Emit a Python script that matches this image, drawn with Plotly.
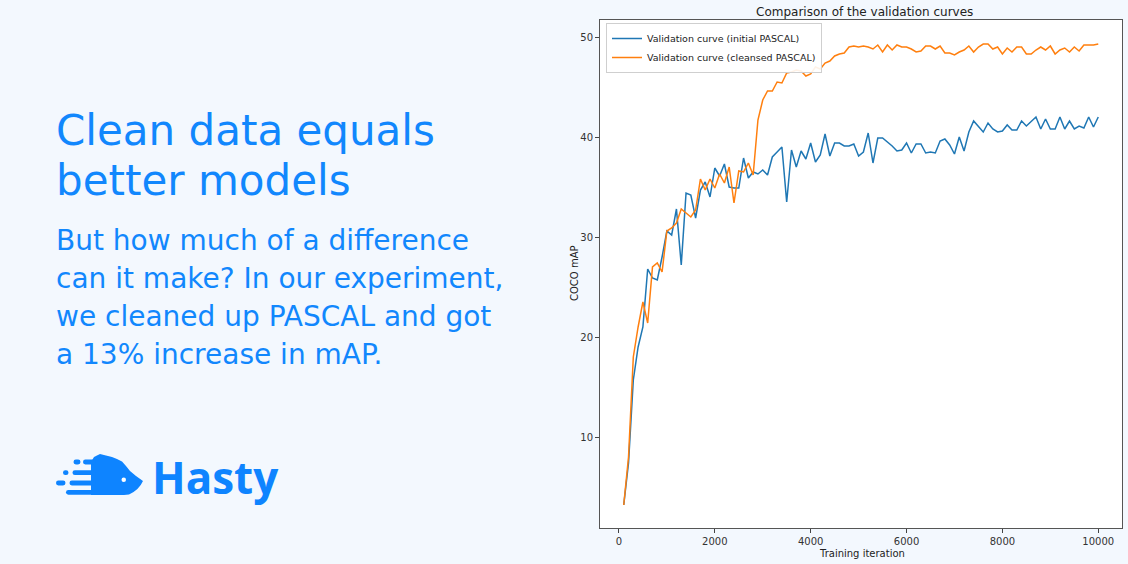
import plotly.graph_objects as go

iterations = list(range(100, 10001, 100))

map_initial = [
    3.2, 7.4, 15.7, 19.0, 21.0, 26.8, 25.9, 25.7, 28.0, 30.6,
    30.2, 32.8, 27.2, 34.4, 34.2, 31.9, 34.7, 35.5, 34.0, 36.9,
    36.1, 37.3, 35.0, 34.9, 34.9, 37.9, 35.9, 36.5, 36.3, 36.7,
    36.2, 38.0, 38.5, 39.0, 33.5, 38.7, 37.0, 38.6, 37.8, 39.4,
    37.5, 38.2, 40.3, 38.1, 39.4, 39.4, 39.1, 39.1, 39.3, 38.1,
    38.5, 40.4, 37.4, 39.9, 39.9, 39.5, 39.1, 38.6, 38.7, 39.4,
    38.4, 39.3, 39.3, 38.4, 38.5, 38.4, 39.6, 39.8, 39.2, 38.3,
    40.0, 38.6, 40.5, 41.6, 41.0, 40.5, 41.4, 40.8, 40.5, 40.6,
    41.2, 40.7, 40.7, 41.6, 41.1, 41.6, 42.0, 40.8, 41.8, 40.8,
    40.8, 42.0, 40.8, 41.6, 40.8, 41.1, 40.9, 42.0, 41.0, 42.0,
]

map_cleansed = [
    3.2, 8.0, 18.0, 21.0, 23.5, 21.4, 27.0, 27.4, 26.5, 30.6,
    30.9, 31.4, 32.8, 32.4, 32.0, 32.7, 35.8, 34.7, 35.8, 34.9,
    36.3, 35.4, 37.0, 33.4, 36.6, 36.5, 37.4, 36.2, 41.7, 43.7,
    44.6, 44.6, 45.5, 45.4, 46.4, 46.5, 46.7, 46.6, 46.1, 46.3,
    47.0, 46.8, 47.4, 47.6, 48.1, 48.3, 48.4, 49.0, 49.1, 49.0,
    49.1, 49.0, 48.8, 49.2, 48.5, 49.2, 48.7, 49.2, 49.0, 49.0,
    48.8, 48.5, 48.6, 49.1, 49.1, 48.8, 49.1, 48.4, 48.4, 48.2,
    48.5, 48.7, 49.1, 48.5, 49.0, 49.3, 49.3, 48.8, 49.0, 48.3,
    48.9, 48.5, 49.0, 49.0, 48.3, 48.3, 48.7, 49.0, 48.7, 49.1,
    48.3, 48.7, 48.9, 48.5, 49.0, 48.6, 49.2, 49.2, 49.2, 49.3,
]

x_ticks = [0, 2000, 4000, 6000, 8000, 10000]
y_ticks = [10, 20, 30, 40, 50]

heading_lines = ["Clean data equals", "better models"]
body_lines = [
    "But how much of a difference",
    "can it make? In our experiment,",
    "we cleaned up PASCAL and got",
    "a 13% increase in mAP.",
]

W, H = 1128, 564
BG = "#F3F8FE"
BLUE_TXT = "#1187FD"
LOGO = "#0E84FF"


def px(x):
    return x / W


def py(y):
    return 1 - y / H


fig = go.Figure()
fig.add_trace(go.Scatter(x=iterations, y=map_initial, mode="lines",
                         name="Validation curve (initial PASCAL)",
                         line=dict(color="#1f77b4", width=1.5)))
fig.add_trace(go.Scatter(x=iterations, y=map_cleansed, mode="lines",
                         name="Validation curve (cleansed PASCAL)",
                         line=dict(color="#ff7f0e", width=1.5)))

axis_common = dict(showgrid=False, zeroline=False, showline=True, mirror=True,
                   linecolor="#555", linewidth=1, ticks="outside", ticklen=4,
                   tickcolor="#444", tickfont=dict(family="DejaVu Sans", size=10, color="#333"))

fig.update_layout(
    width=W, height=H,
    margin=dict(l=0, r=0, t=0, b=0),
    paper_bgcolor=BG, plot_bgcolor="white",
    showlegend=True,
    legend=dict(x=px(606), y=py(23), xanchor="left", yanchor="top",
                bgcolor="rgba(255,255,255,0.9)", bordercolor="#cfcfcf", borderwidth=1,
                font=dict(family="DejaVu Sans", size=9.5, color="#222"),
                itemwidth=30, tracegroupgap=0),
    xaxis=dict(domain=[px(600), px(1122)], range=[-395, 10495],
               tickvals=x_ticks, ticktext=[str(v) for v in x_ticks], **axis_common),
    yaxis=dict(domain=[py(528), py(20)], range=[0.9, 51.7],
               tickvals=y_ticks, ticktext=[str(v) for v in y_ticks], **axis_common),
)

ann = []
ann.append(dict(text="Comparison of the validation curves", x=px(864), y=py(12),
                xref="paper", yref="paper", showarrow=False, xanchor="center", yanchor="middle",
                font=dict(family="DejaVu Sans", size=12, color="#222")))
ann.append(dict(text="Training iteration", x=px(862), y=py(553),
                xref="paper", yref="paper", showarrow=False, xanchor="center", yanchor="middle",
                font=dict(family="DejaVu Sans", size=10, color="#222")))
ann.append(dict(text="COCO mAP", x=px(574), y=py(273), textangle=-90,
                xref="paper", yref="paper", showarrow=False, xanchor="center", yanchor="middle",
                font=dict(family="DejaVu Sans", size=10, color="#222")))

heading_centers = [130.5, 180.5]
for t, yc in zip(heading_lines, heading_centers):
    ann.append(dict(text=t, x=px(54), y=py(yc), xref="paper", yref="paper", showarrow=False,
                    xanchor="left", yanchor="middle",
                    font=dict(family="DejaVu Sans", size=42, color=BLUE_TXT)))
body_centers = [240.3, 278.3, 316.3, 354.3]
for t, yc in zip(body_lines, body_centers):
    ann.append(dict(text=t, x=px(54), y=py(yc), xref="paper", yref="paper", showarrow=False,
                    xanchor="left", yanchor="middle",
                    font=dict(family="DejaVu Sans", size=28, color=BLUE_TXT)))
ann.append(dict(text="<b>Hasty</b>", x=px(150), y=py(477), xref="paper", yref="paper",
                showarrow=False, xanchor="left", yanchor="middle",
                font=dict(family="Open Sans", size=44, color=LOGO)))
fig.update_layout(annotations=ann)


def path_from(cmds):
    out = []
    for c in cmds:
        if isinstance(c, str):
            out.append(c)
        else:
            out.append(f"{px(c[0]):.5f},{py(c[1]):.5f}")
    return " ".join(out)


def pill(x0, x1, yc, r):
    return path_from(["M", (x0 + r, yc - r), "L", (x1 - r, yc - r),
                      "Q", (x1, yc - r), (x1, yc), "Q", (x1, yc + r), (x1 - r, yc + r),
                      "L", (x0 + r, yc + r), "Q", (x0, yc + r), (x0, yc),
                      "Q", (x0, yc - r), (x0 + r, yc - r), "Z"])


shapes = []
body = path_from(["M", (91, 462), "L", (94, 457), "L", (100, 454), "L", (106, 455.5),
                  "L", (112, 457), "L", (117, 459), "L", (122, 461.5), "L", (126, 466),
                  "L", (130, 471), "L", (136, 476), "L", (143, 481),
                  "Q", (139, 490), (129, 494.5), "L", (124, 495), "L", (91, 495), "Z"])
shapes.append(dict(type="path", path=body, xref="paper", yref="paper",
                   fillcolor=LOGO, line=dict(width=0)))
for (x0, x1, yc) in [(73.5, 80.5, 462), (83, 96, 462), (63, 68.5, 472.7), (72.5, 96, 472.7),
                     (56, 65.5, 483), (69.5, 96, 483), (66, 100, 492.3)]:
    shapes.append(dict(type="path", path=pill(x0, x1, yc, 2.4), xref="paper", yref="paper",
                       fillcolor=LOGO, line=dict(width=0)))
shapes.append(dict(type="circle", xref="paper", yref="paper",
                   x0=px(121.5), x1=px(126), y0=py(482), y1=py(477.5),
                   fillcolor="white", line=dict(width=0)))
fig.update_layout(shapes=shapes)

fig.write_html("out.html")
